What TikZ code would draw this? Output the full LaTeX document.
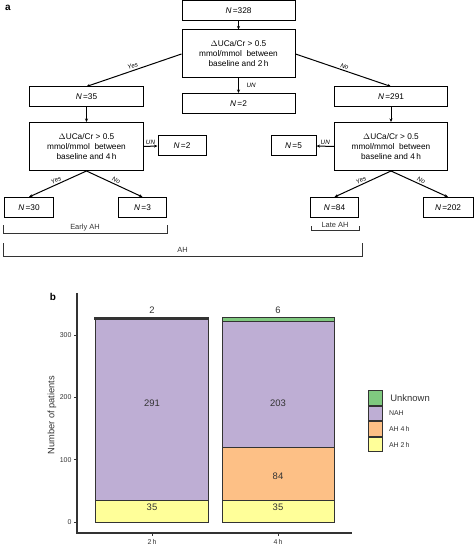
\documentclass[tikz,border=0pt]{standalone}
\usepackage{fontspec}
\setmainfont{Liberation Sans}
\usetikzlibrary{arrows.meta, positioning, calc}

\definecolor{amarilloAH}{HTML}{FFFF99}
\definecolor{naranjaAH}{HTML}{FDC086}
\definecolor{moradoNAH}{HTML}{BEAED4}
\definecolor{verdeDesc}{HTML}{7FC97F}
\definecolor{borde}{HTML}{333333}

\newcommand{\ene}[1]{\textit{N}\,=#1}

\begin{document}
\begin{tikzpicture}[
    x=1bp, y=-1bp,
    every path/.style={line width=1bp},
    ->,
    >={Stealth[length=3.5bp, width=3bp]}
]
    \tikzset{
        caja/.style={draw, minimum width=113bp, minimum height=20bp, inner sep=1bp,
            font=\fontsize{8.3}{10}\selectfont},
        pregunta/.style={caja, minimum height=48bp, align=center},
        chica/.style={caja, minimum width=48bp},
        rama/.style={font=\fontsize{6.3}{7}\selectfont\itshape, inner sep=1.5bp},
        grupo/.style={font=\fontsize{7.5}{8}\selectfont, inner sep=1bp},
        cifra/.style={font=\fontsize{9.5}{11}\selectfont, text=borde},
        marca/.style={font=\fontsize{7}{8}\selectfont, text=borde, inner sep=1bp},
        barra/.style={draw=borde, line width=1bp},
        clave/.style={draw=borde, line width=1bp, minimum width=14bp, minimum height=14.5bp, inner sep=0pt},
        letra/.style={font=\fontsize{10}{11}\selectfont\bfseries}
    }
    \useasboundingbox (0,0) rectangle (474,545);

    % Nodos
    \node[letra] (a) at (8,8) {a};
    \node[caja]     (total)   at (238.5,11)  {\ene{328}};
    \node[pregunta] (cond2h)  at (238.5,54)  {$\Delta$UCa/Cr > 0.5\\mmol/mmol\ \ between\\baseline and 2\,h};
    \node[caja]     (un2h)    at (238.5,103.5) {\ene{2}};
    \node[caja]     (si2h)    at (86.5,97)   {\ene{35}};
    \node[caja]     (no2h)    at (391,97)    {\ene{291}};
    \node[pregunta] (cond4hA) at (86.5,146.5) {$\Delta$UCa/Cr > 0.5\\mmol/mmol\ \ between\\baseline and 4\,h};
    \node[pregunta] (cond4hB) at (391,146.5)  {$\Delta$UCa/Cr > 0.5\\mmol/mmol\ \ between\\baseline and 4\,h};
    \node[chica]    (unA)     at (182,146)   {\ene{2}};
    \node[chica, minimum width=45bp] (unB) at (293.5,146) {\ene{5}};
    \node[chica]    (n30)     at (29,207.5)  {\ene{30}};
    \node[chica]    (n3)      at (142.5,207.5) {\ene{3}};
    \node[chica]    (n84)     at (334.5,207.5) {\ene{84}};
    \node[chica, minimum width=50bp] (n202) at (448,207.5) {\ene{202}};

    % Aristas
    \draw (total) -- (cond2h);
    \draw (cond2h) -- node[rama, right, xshift=6bp] {UN} (un2h);
    \draw (cond2h.west) -- node[rama, above, sloped] {Yes} (si2h.north);
    \draw (cond2h.east) -- node[rama, above, sloped] {No} (no2h.north);
    \draw (si2h) -- (cond4hA);
    \draw (no2h) -- (cond4hB);
    \draw (cond4hA.east) -- node[rama, above] {UN} (unA.west);
    \draw (cond4hB.west) -- node[rama, above] {UN} (unB.east);
    \draw (cond4hA.south) -- node[rama, above, sloped] {Yes} (n30.north);
    \draw (cond4hA.south) -- node[rama, above, sloped] {No} (n3.north);
    \draw (cond4hB.south) -- node[rama, above, sloped] {Yes} (n84.north);
    \draw (cond4hB.south) -- node[rama, above, sloped] {No} (n202.north);

    % Llaves
    \draw[-, line width=0.8bp, borde] (3,225) -- (3,233) -- node[grupo, above=1bp] (temprana) {Early AH} (167,233) -- (167,225);
    \draw[-, line width=0.8bp, borde] (311,226) -- (311,230) -- node[grupo, above=1bp] (tardia) {Late AH} (359,230) -- (359,226);
    \draw[-, line width=0.8bp, borde] (3,243) -- (3,256) -- node[grupo, above=2bp] (todos) {AH} (362,256) -- (362,243);

    % Grafica
    \node[letra] (b) at (53,297) {b};
    \begin{scope}[-, shift={(0,522)}, y={(0bp,0.6225bp)}]
        \filldraw[barra, fill=amarilloAH] (95,0) rectangle (208,35);
        \filldraw[barra, fill=moradoNAH] (95,35) rectangle (208,326);
        \filldraw[barra, fill=verdeDesc, line width=1.3bp] (95,326) rectangle (208,328);
        \filldraw[barra, fill=amarilloAH] (222,0) rectangle (334,35);
        \filldraw[barra, fill=naranjaAH] (222,35) rectangle (334,119);
        \filldraw[barra, fill=moradoNAH] (222,119) rectangle (334,322);
        \filldraw[barra, fill=verdeDesc] (222,322) rectangle (334,328);

        \draw[borde, line width=1.1bp] (77,368) -- (77,-17.7) -- (352,-17.7);
        \foreach \v in {0,100,200,300} {
            \draw[borde, line width=0.9bp] (74,\v) -- (77,\v);
            \node[marca, anchor=east] (t\v) at (73,\v) {\v};
        }
        \foreach \x/\t in {152/2, 278/4} {
            \draw[borde, line width=0.9bp] (\x,-17.7) -- (\x,-22.5);
            \node[marca] (h\t) at (\x,-32.1) {\t\,h};
        }

        \node[cifra] (d2)   at (152,340.6) {2};
        \node[cifra] (d6)   at (278,340.6) {6};
        \node[cifra] (c291) at (152,191) {291};
        \node[cifra] (c203) at (278,191) {203};
        \node[cifra] (c84)  at (278,73.9) {84};
        \node[cifra] (c35a) at (152,24.1) {35};
        \node[cifra] (c35b) at (278,24.1) {35};
    \end{scope}
    \node[font=\fontsize{9.3}{10}\selectfont, rotate=90, text=borde] (ylab) at (52,415) {Number of patients};

    % Leyenda
    \node[clave, fill=verdeDesc] (kU) at (375,398) {};
    \node[clave, fill=moradoNAH, below=0pt of kU] (kN) {};
    \node[clave, fill=naranjaAH, below=0pt of kN] (k4) {};
    \node[clave, fill=amarilloAH, below=0pt of k4] (k2) {};
    \node[font=\fontsize{9.5}{10}\selectfont, anchor=west, text=borde] (lU) at ([xshift=4bp]kU.east) {Unknown};
    \node[marca, anchor=west] (lN) at ([xshift=5bp]kN.east) {NAH};
    \node[marca, anchor=west] (l4) at ([xshift=5bp]k4.east) {AH 4\,h};
    \node[marca, anchor=west] (l2) at ([xshift=5bp]k2.east) {AH 2\,h};
\end{tikzpicture}
\end{document}
